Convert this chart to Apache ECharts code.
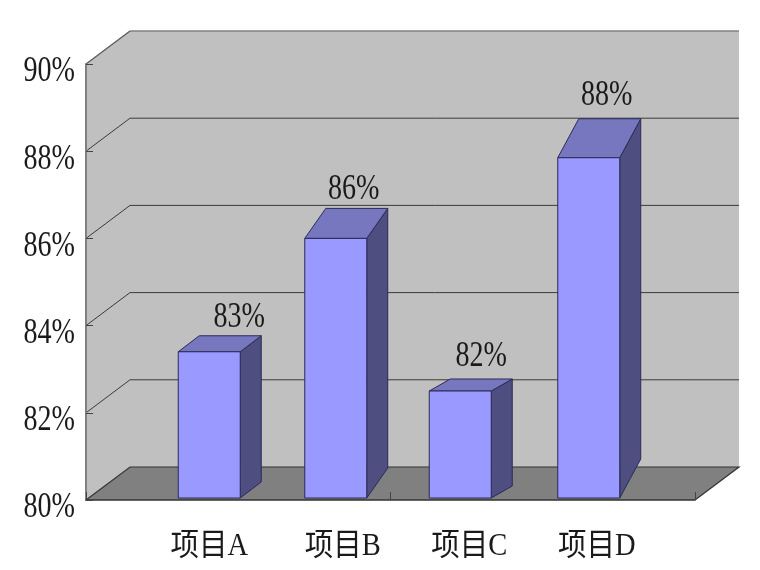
<!DOCTYPE html>
<html>
<head>
<meta charset="utf-8">
<style>html,body{margin:0;padding:0;background:#fff}#c{width:760px;height:570px;filter:blur(0.35px)}</style>
<script src="https://cdn.jsdelivr.net/npm/echarts@6/dist/echarts.min.js"></script>
</head>
<body>
<div id="c"></div>
<script>
const categories = ['项目A', '项目B', '项目C', '项目D'];
const values = [83.4, 86.0, 82.5, 87.85];
const valueLabels = ['83%', '86%', '82%', '88%'];
const yTicks = [80, 82, 84, 86, 88, 90];

// drawing style
const WALL_DX = 44, WALL_DY = 33;
const depthY = [16, 30, 12, 39];
const barShift = [0, 0, -2, 0];
const catShift = [0, 7, 7, 8];
const DEPTH_X = 21, BAR_W = 0.49, BASE_LIFT = 2;
const labelDX = [30, 18, 21, 18], labelDY = [18, 19, 22, 23];
const FONT = '"Liberation Serif","Noto Sans CJK SC",serif';
const EDGE = '#2b2b55', GRID = '#3a3a3a', INK = '#1a1a1a';

const chart = echarts.init(document.getElementById('c'));

function poly(points, fill, stroke, lw) {
  return { type: 'polygon', shape: { points }, style: { fill, stroke: stroke || 'none', lineWidth: lw || 0 } };
}
function tallText(text, x, y, size, sx, align) {
  return { type: 'text', x, y, scaleX: sx, style: { text, x: 0, y: 0, fill: INK,
    font: size + 'px ' + FONT, textAlign: align, textVerticalAlign: 'middle' } };
}
function renderWalls(params, api) {
  const a = api.coord([0, 80]), b = api.coord([2, 80]), t = api.coord([0, 90]), bT = api.coord([2, 90]);
  const sh = p => [p[0] + WALL_DX, p[1] - WALL_DY];
  return { type: 'group', children: [
    poly([t, sh(t), sh(bT), sh(b), sh(a), a], '#C0C0C0'),
    poly([a, b, sh(b), sh(a)], '#808080'),
    { type: 'polyline', shape: { points: [a, sh(a), sh(b), b] }, style: { fill: 'none', stroke: '#333', lineWidth: 1.2 } },
    { type: 'line', shape: { x1: t[0], y1: t[1], x2: sh(t)[0], y2: sh(t)[1] }, style: { stroke: '#555', lineWidth: 1.2 } },
    { type: 'line', shape: { x1: sh(t)[0], y1: sh(t)[1], x2: sh(bT)[0], y2: sh(bT)[1] }, style: { stroke: '#808080', lineWidth: 1.5 } }
  ] };
}
function renderGrid(params, api) {
  const p = api.coord([0, api.value(0)]), q = api.coord([2, api.value(0)]);
  return { type: 'polyline', shape: { points: [p, [p[0] + WALL_DX, p[1] - WALL_DY], [q[0] + WALL_DX, q[1] - WALL_DY]] },
    style: { fill: 'none', stroke: GRID, lineWidth: 1 } };
}
function renderYLabel(params, api) {
  const p = api.coord([0, api.value(0)]);
  return tallText(api.value(0) + '%', p[0] - 11, p[1] + 8, 36, 0.78, 'right');
}
function renderBar(params, api) {
  const i = params.dataIndex;
  const top = api.coord([api.value(0), api.value(1)]);
  const base = api.coord([api.value(0), 80]);
  const w = api.size([1, 0])[0] * BAR_W;
  const cx = top[0] + barShift[i];
  const x0 = cx - w / 2, x1 = cx + w / 2, yT = top[1], yB = base[1] - BASE_LIFT;
  const dy = depthY[i];
  return { type: 'group', children: [
    poly([[x1, yT], [x1 + DEPTH_X, yT - dy], [x1 + DEPTH_X, yB - dy], [x1, yB]], '#4E4E80', EDGE, 1),
    poly([[x0, yT], [x0 + DEPTH_X, yT - dy], [x1 + DEPTH_X, yT - dy], [x1, yT]], '#7777C0', EDGE, 1),
    poly([[x0, yT], [x1, yT], [x1, yB], [x0, yB]], '#9999FF', EDGE, 1),
    tallText(valueLabels[i], cx + labelDX[i], yT - dy - labelDY[i], 36, 0.78, 'center'),
    tallText(categories[i], top[0] + catShift[i], base[1] + 47, 31, 0.92, 'center')
  ] };
}

chart.setOption({
  animation: false,
  backgroundColor: '#fff',
  grid: [
    { left: 86, width: 609, top: 64, height: 436 },
    { left: 146, width: 506, top: 64, height: 436 }
  ],
  xAxis: [
    { type: 'value', gridIndex: 0, min: 0, max: 2, interval: 1, splitLine: { show: false },
      axisLabel: { show: false }, axisLine: { show: true, lineStyle: { color: '#333', width: 1.5 } },
      axisTick: { show: true, inside: true, length: 8, lineStyle: { color: '#444' } }, z: 5 },
    { type: 'category', gridIndex: 1, data: categories, axisLine: { show: false }, axisTick: { show: false },
      axisLabel: { show: false } }
  ],
  yAxis: [
    { type: 'value', gridIndex: 0, min: yTicks[0], max: yTicks[yTicks.length - 1], interval: 2, splitLine: { show: false },
      axisLine: { show: true, lineStyle: { color: '#808080', width: 2 } },
      axisTick: { show: true, inside: true, length: 7, lineStyle: { color: '#444' } },
      axisLabel: { show: false }, z: 5 },
    { type: 'value', gridIndex: 1, min: yTicks[0], max: yTicks[yTicks.length - 1], interval: 2, show: false }
  ],
  series: [
    { type: 'custom', xAxisIndex: 0, yAxisIndex: 0, clip: false, silent: true, z: 1, renderItem: renderWalls, data: [[0]] },
    { type: 'custom', xAxisIndex: 0, yAxisIndex: 0, clip: false, silent: true, z: 2, renderItem: renderGrid,
      encode: { y: 0 }, data: yTicks.slice(1, -1).map(v => [v]) },
    { type: 'custom', xAxisIndex: 0, yAxisIndex: 0, clip: false, silent: true, z: 6, renderItem: renderYLabel,
      encode: { y: 0 }, data: yTicks.map(v => [v]) },
    { type: 'custom', xAxisIndex: 1, yAxisIndex: 1, clip: false, z: 3, renderItem: renderBar,
      encode: { x: 0, y: 1 }, data: values.map((v, i) => [i, v]) }
  ]
});
</script>
</body>
</html>
